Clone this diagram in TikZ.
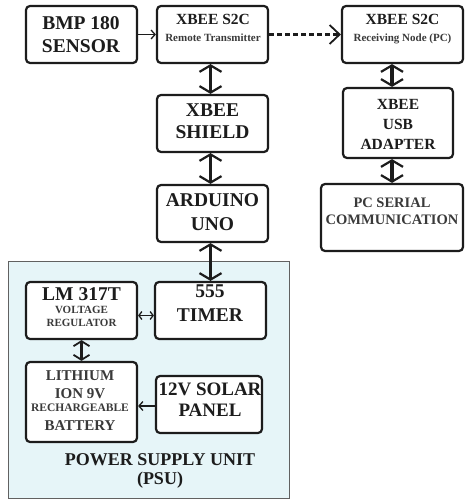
\documentclass[tikz,border=0pt]{standalone}
\usepackage{fontspec}
\setmainfont{Liberation Serif}
\usetikzlibrary{arrows.meta}
\definecolor{psufill}{HTML}{E6F5F8}
\definecolor{ink}{HTML}{1C1C1C}
\definecolor{ink2}{HTML}{3A3A3A}
\begin{document}
\begin{tikzpicture}[x=1pt,y=-1pt,
  blk/.style={draw=ink,line width=2.2pt,rounded corners=4pt,fill=white,inner sep=0pt},
  ln/.style={text=ink,anchor=base,inner sep=0pt},
  fa/.style={ln,font=\bfseries\fontsize{19.5}{20}\selectfont},
  fb/.style={ln,font=\bfseries\fontsize{15.5}{16}\selectfont},
  fc/.style={ln,text=ink2,font=\bfseries\fontsize{14.5}{15}\selectfont},
  fs/.style={ln,text=ink2,font=\bfseries\fontsize{11}{12}\selectfont},
  dbl/.style={ink,line width=3.5pt,{Straight Barb[length=6.5pt,width=22pt,line width=2.2pt]}-{Straight Barb[length=6.5pt,width=22pt,line width=2.2pt]}},
  dblm/.style={ink,line width=2.6pt,{Straight Barb[length=5pt,width=16pt,line width=1.8pt]}-{Straight Barb[length=5pt,width=16pt,line width=1.8pt]}},
  thin/.style={ink,line width=1.3pt,-{Straight Barb[length=4pt,width=9pt]}},
  thinb/.style={ink,line width=1.3pt,{Straight Barb[length=3pt,width=8pt]}-{Straight Barb[length=3pt,width=8pt]}},
  dsh/.style={ink,line width=2.2pt,dash pattern=on 5pt off 3pt,-{Straight Barb[length=10pt,width=19pt,line width=1.8pt]}}]
\useasboundingbox (0,0) rectangle (474,502);
\fill[white] (0,0) rectangle (474,502);
% PSU background
\draw[draw=ink2!80,line width=1pt,fill=psufill] (8,261) rectangle (289,498);
\node[ln,font=\bfseries\fontsize{18}{18}\selectfont] (psu1) at (160,465) {POWER SUPPLY UNIT};
\node[ln,font=\bfseries\fontsize{18}{18}\selectfont] (psu2) at (160,484) {(PSU)};
% boxes
\node[blk,minimum width=111pt,minimum height=57pt] (bmp) at (81.5,34.5) {};
\node[blk,minimum width=111pt,minimum height=57pt] (tx) at (212.5,34.5) {};
\node[blk,minimum width=121pt,minimum height=57pt] (rx) at (402.5,34.5) {};
\node[blk,minimum width=111pt,minimum height=57pt] (shield) at (212.5,123.5) {};
\node[blk,minimum width=110pt,minimum height=70pt] (usb) at (398,123) {};
\node[blk,minimum width=111pt,minimum height=57pt] (ard) at (212.5,213.5) {};
\node[blk,minimum width=142pt,minimum height=67pt] (pcs) at (392,217.5) {};
\node[blk,minimum width=111pt,minimum height=57pt] (lm) at (81.5,310.5) {};
\node[blk,minimum width=111pt,minimum height=57pt] (tim) at (210.5,310.5) {};
\node[blk,minimum width=111pt,minimum height=80pt] (li) at (81.5,402) {};
\node[blk,minimum width=106pt,minimum height=57pt] (sol) at (209,404.5) {};
% texts
\node[fa] (tbmp1) at (81,30) {BMP 180};
\node[fa] (tbmp2) at (81,53) {SENSOR};
\node[fb] (ttx1) at (213,25) {XBEE S2C};
\node[fs] (ttx2) at (213,41.5) {Remote Transmitter};
\node[fb] (trx1) at (402.5,25) {XBEE S2C};
\node[fs] (trx2) at (402.5,41.5) {Receiving Node (PC)};
\node[fa] (tsh1) at (212.5,117) {XBEE};
\node[fa] (tsh2) at (212.5,139) {SHIELD};
\node[fb] (tusb1) at (398,110) {XBEE};
\node[fb] (tusb2) at (398,130) {USB};
\node[fb] (tusb3) at (398,150) {ADAPTER};
\node[fa] (tard1) at (212.5,207) {ARDUINO};
\node[fa] (tard2) at (212.5,230) {UNO};
\node[fc] (tpcs1) at (392,208) {PC SERIAL};
\node[fc] (tpcs2) at (392,225) {COMMUNICATION};
\node[fa] (tlm1) at (81.5,300) {LM 317T};
\node[fs] (tlm2) at (81.5,313) {VOLTAGE};
\node[fs] (tlm3) at (81.5,326.7) {REGULATOR};
\node[fa] (ttim1) at (210,297) {555};
\node[fa] (ttim2) at (210,321.7) {TIMER};
\node[fc,font=\bfseries\fontsize{15}{15}\selectfont] (tli1) at (80,380) {LITHIUM};
\node[fc,font=\bfseries\fontsize{15}{15}\selectfont] (tli2) at (80,398) {ION 9V};
\node[fs,font=\bfseries\fontsize{11.5}{12}\selectfont] (tli3) at (80,411.7) {RECHARGEABLE};
\node[fc,font=\bfseries\fontsize{15}{15}\selectfont] (tli4) at (80,430) {BATTERY};
\node[fa,font=\bfseries\fontsize{19}{19}\selectfont] (tsol1) at (210,395) {12V SOLAR};
\node[fa,font=\bfseries\fontsize{19}{19}\selectfont] (tsol2) at (210,416.7) {PANEL};
% connectors
\draw[thin] (bmp.east) -- (tx.west);
\draw[dsh] (tx.east) -- (rx.west);
\draw[dbl] (tx.south -| tim.north) -- (shield.north -| tim.north);
\draw[dbl] (shield.south -| tim.north) -- (ard.north -| tim.north);
\draw[dbl] (ard.south -| tim.north) -- (tim.north);
\draw[dbl] (rx.south -| pcs.north) -- (usb.north -| pcs.north);
\draw[dbl] (usb.south -| pcs.north) -- (pcs.north);
\draw[thinb] ([yshift=-5pt]lm.east) -- ([yshift=-5pt]lm.east -| tim.west);
\draw[dblm] (lm.south) -- (li.north);
\draw[thin] ([yshift=-1.5pt]sol.west) -- ([yshift=-1.5pt]sol.west -| li.east);
\end{tikzpicture}
\end{document}
